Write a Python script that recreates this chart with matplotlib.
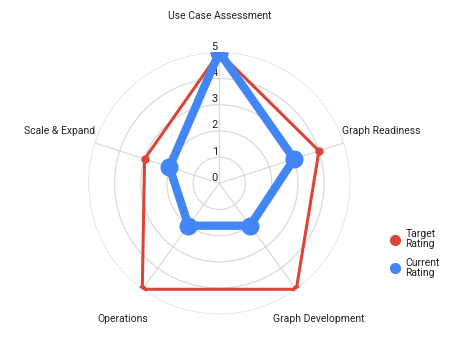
import numpy as np
import matplotlib
matplotlib.use("Agg")
import matplotlib.pyplot as plt

plt.rcParams['font.family'] = ['Roboto', 'DejaVu Sans']

# chart data
categories = ["Use Case Assessment", "Graph Readiness", "Graph Development",
              "Operations", "Scale & Expand"]
series_names = ["Target Rating", "Current Rating"]
target = [5, 4, 5, 5, 3]
current = [5, 3, 2, 2, 2]
ticks = [0, 1, 2, 3, 4, 5]

RED = "#db4437"
BLUE = "#4285f4"
GRID = "#dadada"
TEXT = "#222222"

n = len(categories)
angles = np.linspace(0, 2 * np.pi, n, endpoint=False)
ang_closed = np.append(angles, angles[0])

fig = plt.figure(figsize=(4.74, 3.53), dpi=100)
ax = fig.add_axes([0.1863, 0.1096, 0.5527, 0.7422], projection='polar')
ax.set_theta_offset(np.pi / 2)
ax.set_theta_direction(-1)
ax.set_ylim(0, 5)

# grid: rings and spokes
ax.set_yticks(ticks[1:])
ax.set_yticklabels([])
ax.set_xticks(angles)
ax.set_xticklabels([])
ax.grid(True, color=GRID, linewidth=0.9)
ax.spines['polar'].set_visible(False)
ax.tick_params(length=0)

# series
ax.plot(ang_closed, np.append(target, target[0]), color=RED, linewidth=2.2,
        marker='o', markersize=5, zorder=3, label=series_names[0].replace(' ', '\n'))
ax.plot(ang_closed, np.append(current, current[0]), color=BLUE, linewidth=6,
        marker='o', markersize=12, zorder=4, solid_joinstyle='round',
        label=series_names[1].replace(' ', '\n'))

# radial tick labels along top spoke
for t in ticks:
    ax.annotate(str(t), xy=(0, t), xytext=(-1, 4), textcoords='offset points',
                ha='right', va='center', fontsize=8, color=TEXT, zorder=2.5,
                annotation_clip=False)

# category labels
label_offsets = [(0, 26, 'center'), (-1, 8.5, 'left'), (16, -21.6, 'center'),
                 (-14.4, -21.6, 'center'), (0, 8.5, 'right')]
for a, name, (dx, dy, ha) in zip(angles, categories, label_offsets):
    ax.annotate(name, xy=(a, 5), xytext=(dx, dy), textcoords='offset points',
                ha=ha, va='center', fontsize=7.5, color=TEXT, annotation_clip=False)

# legend
leg = fig.legend(loc='upper left', bbox_to_anchor=(0.8135, 0.365), frameon=False,
                 fontsize=7.5, handlelength=0.8, handletextpad=0.6,
                 labelspacing=0.8, borderpad=0)
for h in leg.legend_handles:
    h.set_linestyle('none')
    h.set_markersize(7)
for txt in leg.get_texts():
    txt.set_color(TEXT)
    txt.set_linespacing(1.0)

fig.savefig("out.png", dpi=100)
